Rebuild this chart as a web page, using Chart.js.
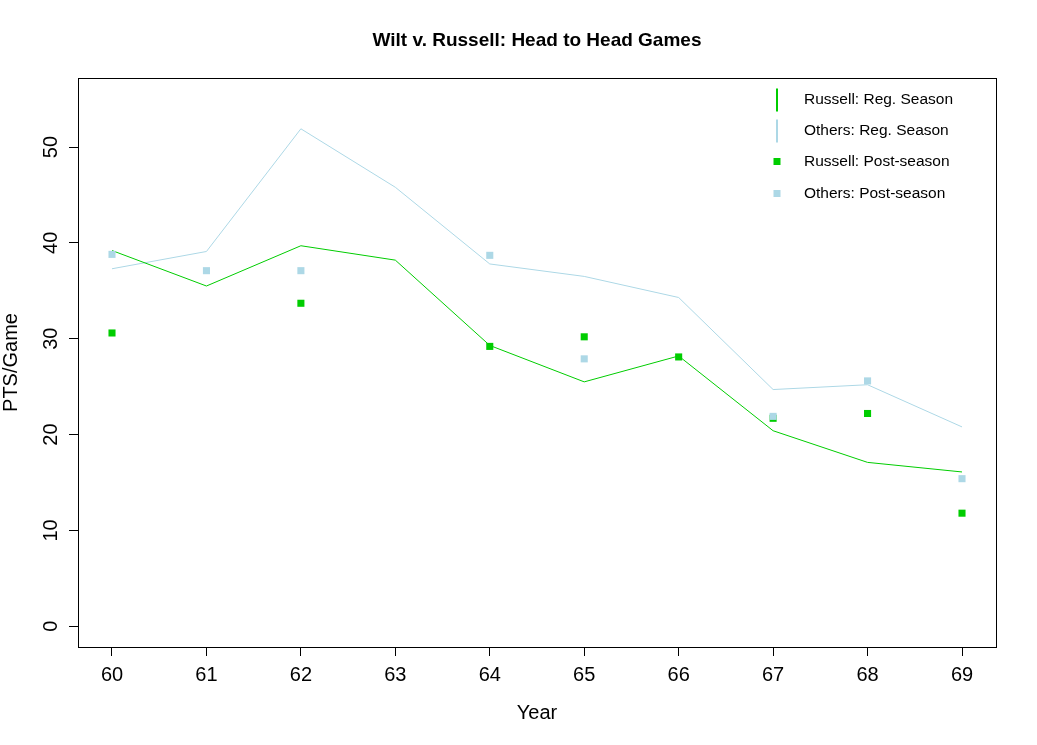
<!DOCTYPE html>
<html>
<head>
<meta charset="utf-8">
<title>Wilt v. Russell</title>
<script src="https://cdn.jsdelivr.net/npm/chart.js@4.4.1/dist/chart.umd.min.js"></script>
<style>
  html, body { margin: 0; padding: 0; background: #fff; }
  #wrap { width: 1037px; height: 745px; }
</style>
</head>
<body>
<div id="wrap"><canvas id="chart" width="1037" height="745"></canvas></div>
<script>
// data
const years = [60, 61, 62, 63, 64, 65, 66, 67, 68, 69];
const russellReg = [39.2, 35.5, 39.7, 38.2, 29.3, 25.5, 28.2, 20.4, 17.1, 16.1];
const othersReg = [37.3, 39.1, 51.9, 45.8, 37.8, 36.5, 34.3, 24.7, 25.2, 20.8];
const russellPost = [30.6, null, 33.7, null, 29.2, 30.2, 28.1, 21.7, 22.2, 11.8];
const othersPost = [38.8, 37.1, 37.1, null, 38.7, 27.9, null, 21.9, 25.6, 15.4];
const xTicks = [60, 61, 62, 63, 64, 65, 66, 67, 68, 69];
const yTicks = [0, 10, 20, 30, 40, 50];

const GREEN = '#00CD00';
const LIGHTBLUE = '#ADD8E6';
const FONT = "'Liberation Sans', Arial, sans-serif";

function toPoints(vals) {
    return years.map((y, i) => ({ x: y, y: vals[i] })).filter(p => p.y !== null);
}

// box round the plot region
const boxPlugin = {
    id: 'box',
    afterDraw(chart) {
        const { ctx, chartArea: a } = chart;
        ctx.save();
        ctx.strokeStyle = '#000';
        ctx.lineWidth = 1;
        ctx.strokeRect(a.left + 0.5, a.top + 0.5, a.right - a.left, a.bottom - a.top);
        ctx.restore();
    }
};

// R style legend in the top right corner, no frame
const legendPlugin = {
    id: 'rLegend',
    afterDraw(chart) {
        const { ctx, chartArea: a } = chart;
        const x0 = a.right - 219;
        const tx = a.right - 192;
        const rows = [a.top + 22, a.top + 53, a.top + 84, a.top + 116];
        ctx.save();
        ctx.font = '15.5px ' + FONT;
        ctx.textBaseline = 'middle';
        ctx.textAlign = 'left';
        chart.data.datasets.forEach((ds, i) => {
            const cy = rows[i];
            if (ds.showLine === false) {
                ctx.fillStyle = ds.pointBackgroundColor;
                ctx.fillRect(x0 - 3.5, cy - 4, 7, 7);
            } else {
                ctx.strokeStyle = ds.borderColor;
                ctx.lineWidth = 2;
                ctx.beginPath();
                ctx.moveTo(x0, cy - 11.5);
                ctx.lineTo(x0, cy + 11.5);
                ctx.stroke();
            }
            ctx.fillStyle = '#000';
            ctx.fillText(ds.label, tx, cy);
        });
        ctx.restore();
    }
};

const ctx = document.getElementById('chart').getContext('2d');
new Chart(ctx, {
    type: 'line',
    data: {
        datasets: [
            {
                label: 'Russell: Reg. Season',
                data: toPoints(russellReg),
                borderColor: GREEN,
                borderWidth: 1,
                pointRadius: 0,
                order: 3
            },
            {
                label: 'Others: Reg. Season',
                data: toPoints(othersReg),
                borderColor: LIGHTBLUE,
                borderWidth: 1,
                pointRadius: 0,
                order: 4
            },
            {
                label: 'Russell: Post-season',
                data: toPoints(russellPost),
                showLine: false,
                pointStyle: 'rect',
                pointRadius: 5,
                pointBorderWidth: 0,
                pointBackgroundColor: GREEN,
                order: 2
            },
            {
                label: 'Others: Post-season',
                data: toPoints(othersPost),
                showLine: false,
                pointStyle: 'rect',
                pointRadius: 5,
                pointBorderWidth: 0,
                pointBackgroundColor: LIGHTBLUE,
                order: 1
            }
        ]
    },
    options: {
        responsive: false,
        animation: false,
        devicePixelRatio: 1,
        layout: { padding: { top: 0, right: 41, bottom: 0, left: 0 } },
        plugins: {
            legend: { display: false },
            tooltip: { enabled: false },
            title: {
                display: true,
                fullSize: false,
                text: 'Wilt v. Russell: Head to Head Games',
                color: '#000',
                font: { family: FONT, size: 19, weight: 'bold', lineHeight: 1 },
                padding: { top: 31, bottom: 28 }
            }
        },
        scales: {
            x: {
                type: 'linear',
                min: 59.64,
                max: 69.36,
                afterBuildTicks: s => { s.ticks = xTicks.map(v => ({ value: v })); },
                afterFit: s => { s.height = 98; },
                grid: { drawOnChartArea: false, drawTicks: true, tickLength: 9, color: '#000' },
                border: { display: false },
                ticks: {
                    color: '#000',
                    font: { family: FONT, size: 20 },
                    padding: 7,
                    maxRotation: 0,
                    autoSkip: false
                },
                title: {
                    display: true,
                    text: 'Year',
                    color: '#000',
                    font: { family: FONT, size: 20, lineHeight: 1 },
                    padding: { top: 0, bottom: 22 }
                }
            },
            y: {
                type: 'linear',
                min: -2.16,
                max: 57.2,
                afterBuildTicks: s => { s.ticks = yTicks.map(v => ({ value: v })); },
                afterFit: s => { s.width = 78; },
                grid: { drawOnChartArea: false, drawTicks: true, tickLength: 9, color: '#000' },
                border: { display: false },
                ticks: {
                    color: '#000',
                    font: { family: FONT, size: 20 },
                    padding: 6,
                    minRotation: 90,
                    maxRotation: 90,
                    crossAlign: 'center',
                    autoSkip: false
                },
                title: {
                    display: true,
                    text: 'PTS/Game',
                    color: '#000',
                    font: { family: FONT, size: 20, lineHeight: 1 },
                    padding: { top: 1, bottom: 1 }
                }
            }
        }
    },
    plugins: [boxPlugin, legendPlugin]
});
</script>
</body>
</html>
